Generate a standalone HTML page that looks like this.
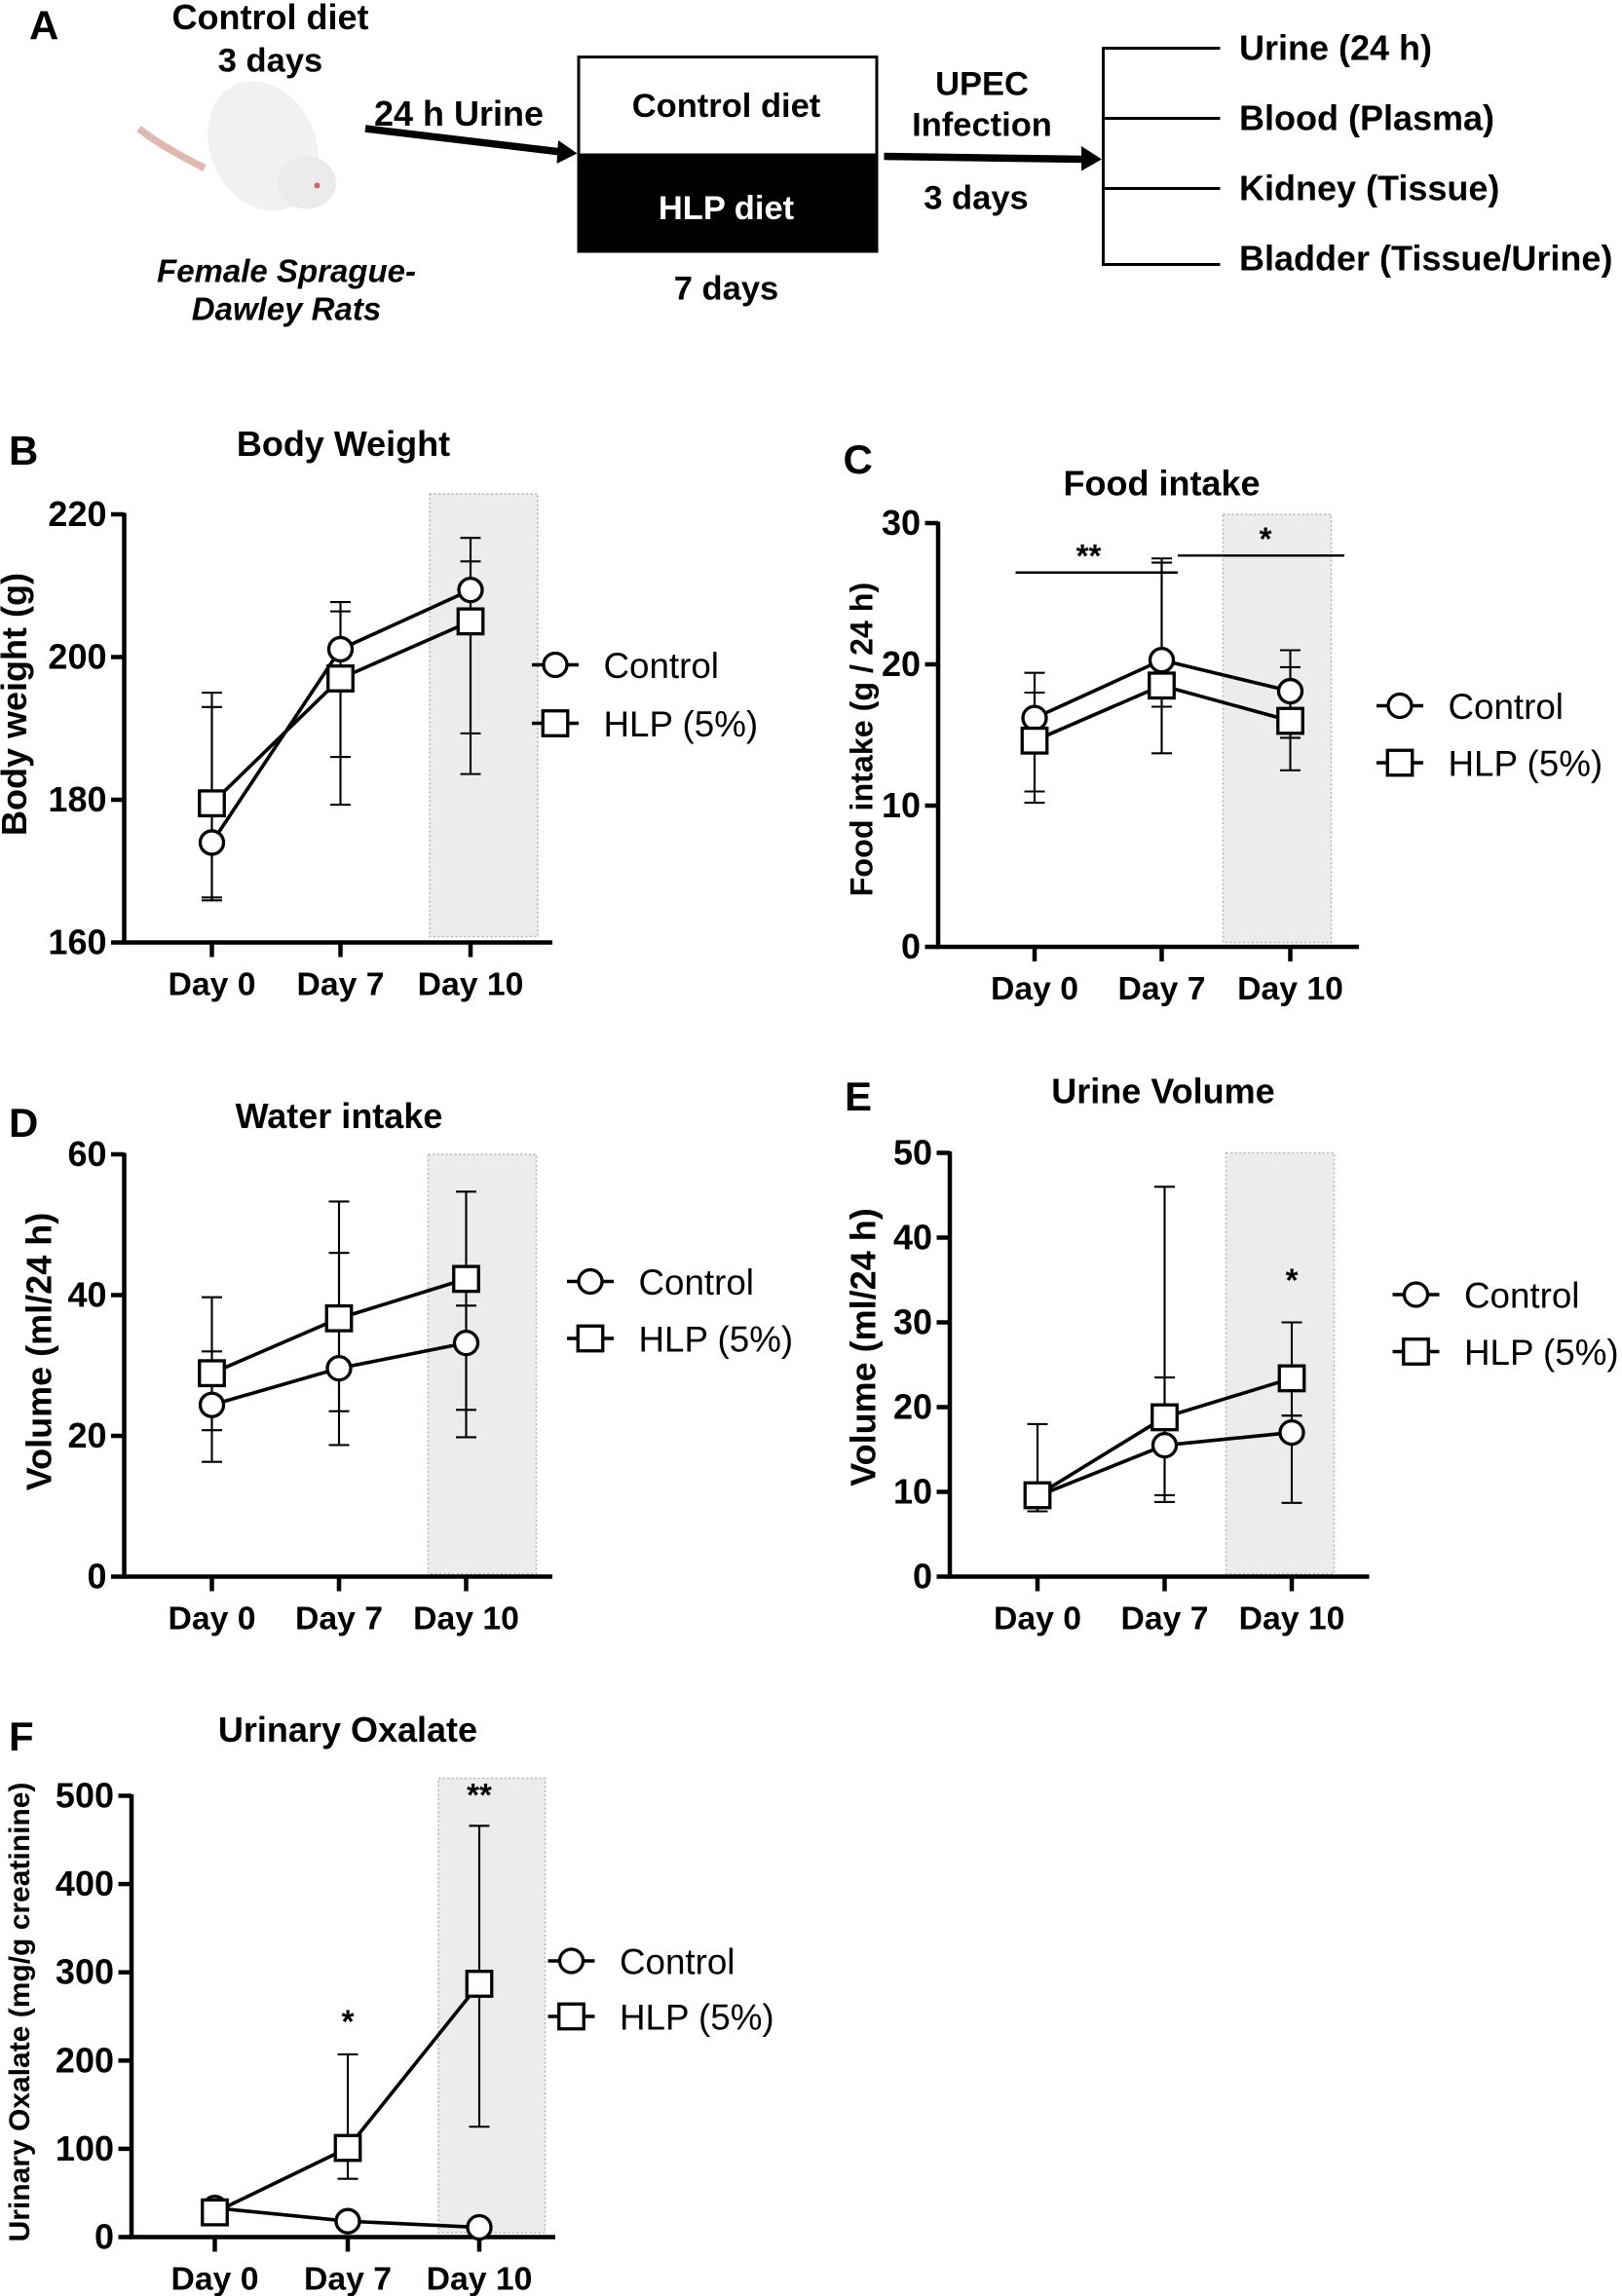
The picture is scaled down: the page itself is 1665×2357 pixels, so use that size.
<!DOCTYPE html>
<html><head><meta charset="utf-8">
<style>
html,body{margin:0;padding:0;background:#fff;}
svg{display:block;font-family:"Liberation Sans",Arial,sans-serif;}
.b{font-weight:bold;}
</style></head>
<body>
<svg id="fig" width="1665" height="2357" viewBox="0 0 1110 1571.33" xmlns="http://www.w3.org/2000/svg">
<g>
<text x="20" y="27" font-size="28" class="b">A</text>
<text x="185" y="20" font-size="24" class="b" text-anchor="middle">Control diet</text>
<text x="185" y="49" font-size="23" class="b" text-anchor="middle">3 days</text>
<g>
<ellipse cx="180" cy="100" rx="36" ry="46" fill="#f1f1f1" transform="rotate(-25 180 100)"/>
<ellipse cx="210" cy="125" rx="20" ry="18" fill="#ebebeb"/>
<path d="M140 115 Q110 100 95 88" stroke="#e0b8b0" stroke-width="5" fill="none"/>
<circle cx="217" cy="127" r="2" fill="#c66"/>
</g>
<text x="196" y="193" font-size="22" class="b" font-style="italic" text-anchor="middle">Female Sprague-</text>
<text x="196" y="219" font-size="22" class="b" font-style="italic" text-anchor="middle">Dawley Rats</text>
<text x="314" y="86" font-size="24" class="b" text-anchor="middle">24 h Urine</text>
<path d="M250 88 L384 104" stroke="#000" stroke-width="5"/>
<path d="M382 96 L395 105 L381 112 Z" fill="#000"/>
<rect x="396" y="39" width="204" height="67" fill="#fff" stroke="#000" stroke-width="2"/>
<rect x="395" y="105" width="206" height="68" fill="#000"/>
<text x="497" y="80" font-size="23" class="b" text-anchor="middle">Control diet</text>
<text x="497" y="150" font-size="23" class="b" fill="#fff" text-anchor="middle">HLP diet</text>
<text x="497" y="205" font-size="23" class="b" text-anchor="middle">7 days</text>
<text x="672" y="65" font-size="23" class="b" text-anchor="middle">UPEC</text>
<text x="672" y="93" font-size="23" class="b" text-anchor="middle">Infection</text>
<text x="668" y="143" font-size="23" class="b" text-anchor="middle">3 days</text>
<path d="M605 107 L742 109" stroke="#000" stroke-width="5"/>
<path d="M740 100 L754 109 L740 117 Z" fill="#000"/>
<path d="M835 33 L755 33 L755 181 L835 181 M755 81 L835 81 M755 129 L835 129" stroke="#000" stroke-width="2" fill="none"/>
<text x="848" y="41" font-size="24" class="b">Urine (24 h)</text>
<text x="848" y="89" font-size="24" class="b">Blood (Plasma)</text>
<text x="848" y="137" font-size="24" class="b">Kidney (Tissue)</text>
<text x="848" y="185" font-size="24" class="b">Bladder (Tissue/Urine)</text>
</g>
</svg>
<script>
// ---- Panel B: Body weight ----
const days = ["Day 0", "Day 7", "Day 10"];
const bwTicks = [160, 180, 200, 220];
const bwControl = [174, 201.1, 209.4];
const bwControlHi = [193, 207.7, 216.7];
const bwControlLo = [166.3, 186, 183.6];
const bwHLP = [179.5, 197, 205];
const bwHLPHi = [195, 206.4, 213.4];
const bwHLPLo = [165.9, 179.3, 189.3];
// ---- Panel C: Food intake ----
const fiTicks = [0, 10, 20, 30];
const fiControl = [16.2, 20.3, 18.1];
const fiControlHi = [19.4, 27.5, 21.0];
const fiControlLo = [11.0, 13.7, 14.8];
const fiHLP = [14.6, 18.5, 16.0];
const fiHLPHi = [18.0, 27.2, 19.8];
const fiHLPLo = [10.2, 17.0, 12.5];
// ---- Panel D: Water intake ----
const wiTicks = [0, 20, 40, 60];
const wiControl = [24.4, 29.6, 33.2];
const wiControlHi = [32, 46, 38.5];
const wiControlLo = [16.3, 23.5, 23.7];
const wiHLP = [28.9, 36.7, 42.3];
const wiHLPHi = [39.7, 53.3, 54.7];
const wiHLPLo = [20.8, 18.7, 19.8];
// ---- Panel E: Urine volume ----
const uvTicks = [0, 10, 20, 30, 40, 50];
const uvControl = [9.5, 15.5, 17];
const uvControlHi = [18, 23.5, 19.0];
const uvControlLo = [7.7, 9.6, 8.7];
const uvHLP = [9.6, 18.8, 23.4];
const uvHLPHi = [10.5, 46, 30];
const uvHLPLo = [8.4, 8.8, 19.0];
// ---- Panel F: Urinary oxalate ----
const uoTicks = [0, 100, 200, 300, 400, 500];
const uoControl = [33, 18, 11];
const uoControlHi = [38, 22, 15];
const uoControlLo = [28, 14, 7];
const uoHLP = [28, 101, 287];
const uoHLPHi = [33, 207, 466];
const uoHLPLo = [22, 66, 125];

const NS = "http://www.w3.org/2000/svg";
const svg = document.getElementById("fig");
function mk(tag, attrs, parent) {
  const e = document.createElementNS(NS, tag);
  for (const k in attrs) e.setAttribute(k, attrs[k]);
  (parent || svg).appendChild(e);
  return e;
}
function txt(s, attrs, parent) { const t = mk("text", attrs, parent); t.textContent = s; return t; }

function marker(g, kind, x, y) {
  let m;
  if (kind === "circle") m = mk("circle", {cx: x, cy: y, r: 8, fill: "#fff", stroke: "#000", "stroke-width": 2.2}, g);
  else m = mk("rect", {x: x - 8.5, y: y - 8.5, width: 17, height: 17, fill: "#fff", stroke: "#000", "stroke-width": 2.2}, g);
  return m;
}

function panel(c) {
  const g = mk("g", {});
  
  
  const ymin = c.ticks[0], ymax = c.ticks[c.ticks.length - 1];
  const Y = v => c.y0 + (v - ymin) / (ymax - ymin) * (c.y1 - c.y0);
  const X = i => c.xs[i];
  const sh = mk("rect", {x: c.shade[0], y: c.shade[1], width: c.shade[2] - c.shade[0], height: c.shade[3] - c.shade[1], fill: "#ececec", stroke: "#b8b8b8", "stroke-width": 1, "stroke-dasharray": "1.5 1.5"}, g);
  
  
  const ya = mk("line", {x1: c.ax, y1: Y(ymax) - 1, x2: c.ax, y2: c.y0, stroke: "#000", "stroke-width": 3}, g);
  
  
  const xa = mk("line", {x1: c.ax - 1.5, y1: c.y0, x2: c.axEnd, y2: c.y0, stroke: "#000", "stroke-width": 3}, g);
  
  
  c.ticks.forEach(t => {
    mk("line", {x1: c.ax - 9, y1: Y(t), x2: c.ax, y2: Y(t), stroke: "#000", "stroke-width": 3}, g);
    const tl = txt(String(t), {x: c.ax - 12, y: Y(t) + 8, "font-size": 24, "font-weight": "bold", "text-anchor": "end"}, g);
    
    
  });
  days.forEach((d, i) => {
    mk("line", {x1: X(i), y1: c.y0, x2: X(i), y2: c.y0 + 10, stroke: "#000", "stroke-width": 3}, g);
    const xl = txt(d, {x: X(i), y: c.y0 + 36, "font-size": 22.5, "font-weight": "bold", "text-anchor": "middle"}, g);
    
    
  });
  const tt = txt(c.title, {x: c.titleX, y: c.titleY, "font-size": 24, "font-weight": "bold", "text-anchor": "middle"}, g);
  
  
  const pl = txt(c.letter, {x: c.letterX, y: c.letterY, "font-size": 28, "font-weight": "bold"}, g);
  
  
  const yl = txt(c.ylabel, {x: 0, y: 0, "font-size": c.ylFont || 24, "font-weight": "bold", "text-anchor": "middle", transform: `translate(${c.ylX},${c.ylY}) rotate(-90)`}, g);
  
  
  c.series.forEach(s => {
    const sg = mk("g", {}, g);
    
    
    s.vals.forEach((v, i) => {
      const eb = mk("path", {d: `M${X(i)} ${Y(s.hi[i])} L${X(i)} ${Y(s.lo[i])} M${X(i) - 7} ${Y(s.hi[i])} L${X(i) + 7} ${Y(s.hi[i])} M${X(i) - 7} ${Y(s.lo[i])} L${X(i) + 7} ${Y(s.lo[i])}`, stroke: "#000", "stroke-width": 1.4, fill: "none"}, sg);
      
      
    });
    const ln = mk("polyline", {points: s.vals.map((v, i) => X(i) + "," + Y(v)).join(" "), fill: "none", stroke: "#000", "stroke-width": 2.4}, sg);
    
    
  });
  c.series.forEach(s => {
    s.vals.forEach((v, i) => {
      const m = marker(g, s.kind, X(i), Y(v));
      
      
    });
  });
  (c.sig || []).forEach(sg0 => {
    if (sg0.line) mk("line", {x1: sg0.line[0], y1: Y(sg0.v), x2: sg0.line[1], y2: Y(sg0.v), stroke: "#000", "stroke-width": 1.6}, g);
    const st = txt(sg0.t, {x: sg0.x, y: Y(sg0.v) - 4, "font-size": 22, "font-weight": "bold", "text-anchor": "middle"}, g);
    
    
  });
  const names = ["Control", "HLP (5%)"];
  c.series.forEach((s, k) => {
    const ly = c.legY[k];
    const lg = mk("g", {}, g);
    
    
    mk("line", {x1: c.legX - 16, y1: ly, x2: c.legX + 16, y2: ly, stroke: "#000", "stroke-width": 2.4}, lg);
    marker(lg, s.kind, c.legX, ly);
    txt(names[k], {x: c.legX + 33, y: ly + 9, "font-size": 24.5}, lg);
  });
}

panel({name: "panel-b-body-weight", letter: "B", letterX: 6, letterY: 318, title: "Body Weight", titleX: 235, titleY: 312,
  ticks: bwTicks, y0: 645, y1: 352, ax: 85, axEnd: 378, xs: [145, 233, 322], shade: [294, 338, 368, 641],
  ylabel: "Body weight (g)", ylX: 18, ylY: 482, legX: 380, legY: [455, 495],
  series: [{key: "control", kind: "circle", vals: bwControl, hi: bwControlHi, lo: bwControlLo},
           {key: "hlp", kind: "square", vals: bwHLP, hi: bwHLPHi, lo: bwHLPLo}]});

panel({name: "panel-c-food-intake", letter: "C", letterX: 577, letterY: 324, title: "Food intake", titleX: 795, titleY: 339,
  ticks: fiTicks, y0: 648, y1: 358, ax: 642, axEnd: 930, xs: [708, 795, 883], shade: [837, 352, 911, 645],
  ylabel: "Food intake (g / 24 h)", ylFont: 21.5, ylX: 597, ylY: 506, legX: 958, legY: [483, 522],
  series: [{key: "control", kind: "circle", vals: fiControl, hi: fiControlHi, lo: fiControlLo},
           {key: "hlp", kind: "square", vals: fiHLP, hi: fiHLPHi, lo: fiHLPLo}],
  sig: [{t: "**", x: 745, v: 26.5, line: [695, 806]}, {t: "*", x: 866, v: 27.7, line: [806, 920]}]});

panel({name: "panel-d-water-intake", letter: "D", letterX: 6, letterY: 778, title: "Water intake", titleX: 232, titleY: 772,
  ticks: wiTicks, y0: 1079, y1: 790, ax: 85, axEnd: 378, xs: [145, 232, 319], shade: [293, 790, 367, 1077],
  ylabel: "Volume (ml/24 h)", ylX: 35, ylY: 925, legX: 404, legY: [877, 916],
  series: [{key: "control", kind: "circle", vals: wiControl, hi: wiControlHi, lo: wiControlLo},
           {key: "hlp", kind: "square", vals: wiHLP, hi: wiHLPHi, lo: wiHLPLo}]});

panel({name: "panel-e-urine-volume", letter: "E", letterX: 578, letterY: 760, title: "Urine Volume", titleX: 796, titleY: 755,
  ticks: uvTicks, y0: 1079, y1: 789, ax: 650, axEnd: 937, xs: [710, 797, 884], shade: [839, 789, 913, 1077],
  ylabel: "Volume (ml/24 h)", ylX: 599, ylY: 922, legX: 969, legY: [886, 925],
  series: [{key: "control", kind: "circle", vals: uvControl, hi: uvControlHi, lo: uvControlLo},
           {key: "hlp", kind: "square", vals: uvHLP, hi: uvHLPHi, lo: uvHLPLo}],
  sig: [{t: "*", x: 884, v: 33}]});

panel({name: "panel-f-urinary-oxalate", letter: "F", letterX: 6, letterY: 1198, title: "Urinary Oxalate", titleX: 238, titleY: 1192,
  ticks: uoTicks, y0: 1531, y1: 1229, ax: 90, axEnd: 380, xs: [147, 238, 328], shade: [300, 1217, 373, 1528],
  ylabel: "Urinary Oxalate (mg/g creatinine)", ylFont: 20, ylX: 20, ylY: 1377, legX: 391, legY: [1342, 1380],
  series: [{key: "control", kind: "circle", vals: uoControl, hi: uoControlHi, lo: uoControlLo},
           {key: "hlp", kind: "square", vals: uoHLP, hi: uoHLPHi, lo: uoHLPLo}],
  sig: [{t: "*", x: 238, v: 225}, {t: "**", x: 328, v: 482}]});
</script>
</body></html>
